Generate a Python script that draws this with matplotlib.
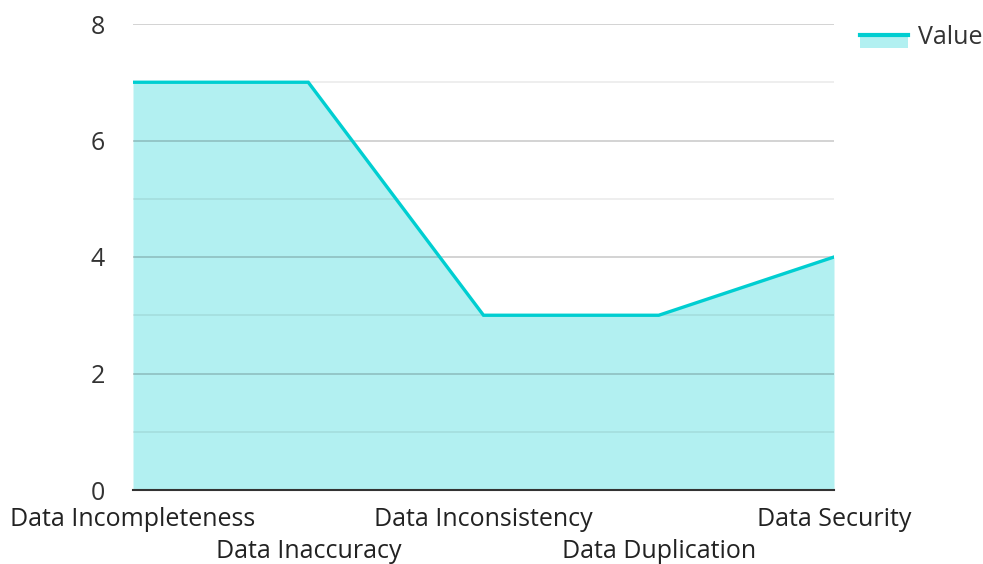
import matplotlib
matplotlib.use("Agg")
import matplotlib.pyplot as plt
from matplotlib.lines import Line2D
from matplotlib.patches import Rectangle
from matplotlib.legend_handler import HandlerBase
import numpy as np

categories = ["Data Incompleteness", "Data Inaccuracy", "Data Inconsistency",
              "Data Duplication", "Data Security"]
values = [7, 7, 3, 3, 4]
series_name = "Value"
y_major = [0, 2, 4, 6, 8]
y_minor = [1, 3, 5, 7]

plt.rcParams['font.family'] = ['Open Sans', 'Noto Sans', 'DejaVu Sans']

fig = plt.figure(figsize=(9.83, 5.64), dpi=100)
ax = fig.add_axes([133/983, 1-490/564, (834-133)/983, (490-24)/564])

x = np.arange(len(categories))
line_color = "#00CED1"
ax.fill_between(x, values, 0, color=line_color, alpha=0.3, linewidth=0, zorder=1)
ax.plot(x, values, color=line_color, linewidth=2.4, zorder=4, solid_joinstyle='miter')

ax.set_xlim(0, len(categories)-1)
ax.set_ylim(0, 8)
ax.set_yticks(y_major)
ax.set_yticks(y_minor, minor=True)
ax.yaxis.grid(True, which='major', color='black', alpha=0.2, linewidth=1.2, zorder=2)
ax.yaxis.grid(True, which='minor', color='black', alpha=0.08, linewidth=1.2, zorder=2)
ax.set_axisbelow(False)
for s in ['top', 'right', 'left']:
    ax.spines[s].set_visible(False)
ax.spines['bottom'].set_color('#333333')
ax.spines['bottom'].set_linewidth(1.5)
ax.spines['bottom'].set_zorder(5)

ax.tick_params(axis='y', which='both', length=0, pad=20, labelsize=18, labelcolor='#333333')
ax.set_yticklabels([str(v) for v in y_major])

ax.set_xticks(x)
ax.set_xticklabels([])
ax.tick_params(axis='x', length=0)
for i, c in enumerate(categories):
    off = 29 if i % 2 == 0 else 61
    ax.annotate(c, xy=(x[i], 0), xycoords='data', xytext=(0, -off),
                textcoords='offset pixels', ha='center', va='center',
                fontsize=18, color='#222222', annotation_clip=False)


class AreaHandler(HandlerBase):
    def create_artists(self, legend, orig, xd, yd, w, h, fs, trans):
        r = Rectangle((xd, yd - h*0.2), w, h*0.75, facecolor=line_color, alpha=0.3,
                      edgecolor='none', transform=trans)
        l = Line2D([xd, xd + w], [yd + h*0.55, yd + h*0.55], color=line_color,
                   linewidth=3, transform=trans)
        return [r, l]


leg = fig.legend([object()], [series_name], handler_map={object: AreaHandler()},
                 loc='center left', bbox_to_anchor=(860/983, 1-38/564), frameon=False,
                 fontsize=18, handlelength=1.9, handletextpad=0.4, borderpad=0,
                 borderaxespad=0, labelcolor='#333333')

fig.savefig("out.png", dpi=100)
